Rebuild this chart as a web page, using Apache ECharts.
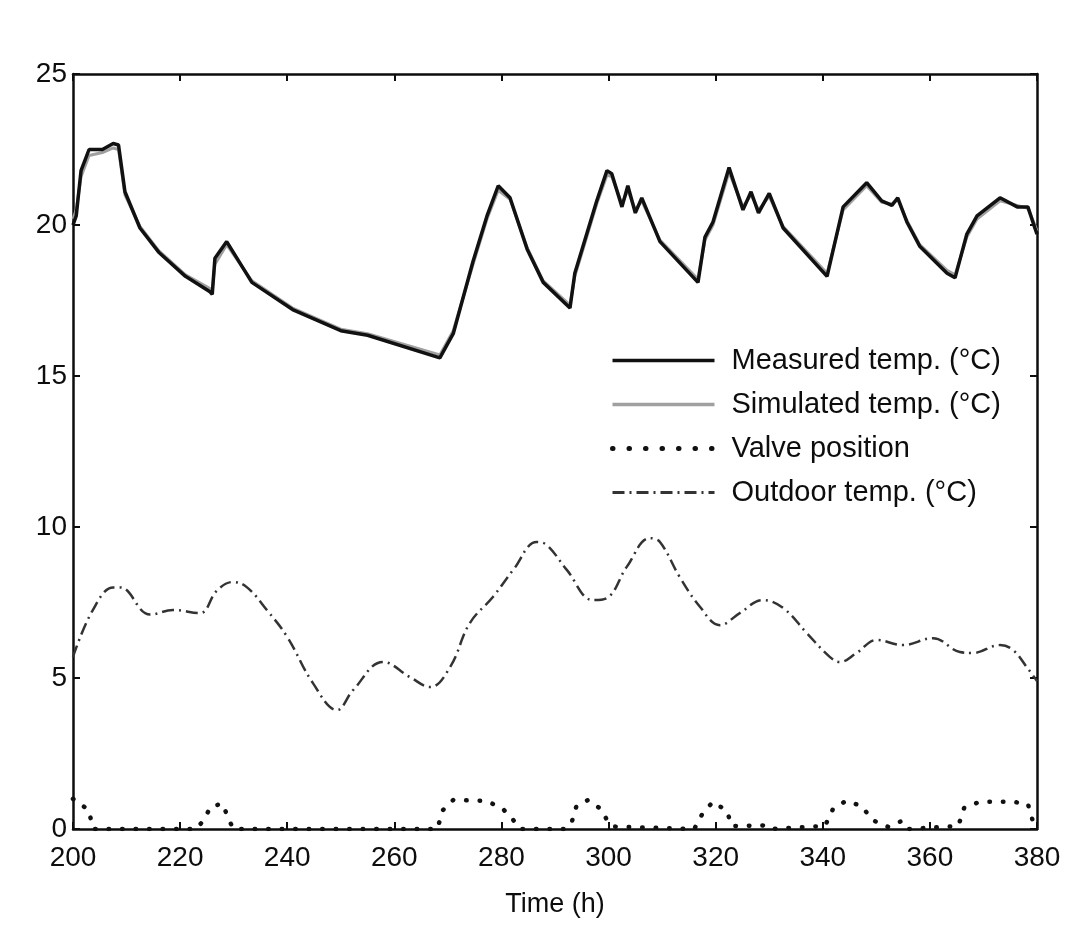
<!DOCTYPE html>
<html>
<head>
<meta charset="utf-8">
<script src="https://cdn.jsdelivr.net/npm/echarts@6/dist/echarts.min.js"></script>
<style>
  html, body { margin: 0; padding: 0; background: #fff; }
  #chart { width: 1065px; height: 929px; }
</style>
</head>
<body>
<div id="chart"></div>
<script>
// [time (h), value]
const measured = [
  [200, 20.0], [200.6, 20.3], [201.5, 21.8], [203, 22.5], [205.5, 22.5], [207.5, 22.7],
  [208.5, 22.65], [209.7, 21.1], [212.5, 19.9], [216, 19.1], [221, 18.3], [225.5, 17.8],
  [226, 17.7], [226.5, 18.9], [228.7, 19.45], [233.4, 18.1], [241, 17.2], [250, 16.5],
  [255, 16.35], [268.5, 15.6], [271, 16.4], [274.7, 18.8], [277.3, 20.3], [279.4, 21.3],
  [281.6, 20.9], [284.8, 19.2], [287.8, 18.1], [292.8, 17.25], [293.7, 18.4], [297.8, 20.8],
  [299.7, 21.8], [300.6, 21.7], [302.5, 20.6], [303.6, 21.3], [305, 20.4], [306.2, 20.9],
  [309.6, 19.45], [316.7, 18.1], [318, 19.6], [319.5, 20.1], [322.5, 21.9], [325.1, 20.5],
  [326.6, 21.1], [328, 20.4], [330, 21.05], [332.6, 19.9], [340.8, 18.3], [343.8, 20.6],
  [348.2, 21.4], [351, 20.8], [352.9, 20.65], [354, 20.9], [355.7, 20.1], [358.1, 19.3],
  [363.2, 18.4], [364.7, 18.25], [366.9, 19.7], [368.8, 20.3], [373.1, 20.9], [376.3, 20.6],
  [378.3, 20.6], [379.6, 19.9], [380, 19.7]
];

const simulated = [
  [200, 20.2], [200.6, 20.5], [201.5, 21.6], [203, 22.3], [205.5, 22.4], [207.5, 22.55],
  [208.5, 22.5], [209.7, 21.0], [212.5, 19.95], [216, 19.15], [221, 18.35], [225.5, 17.9],
  [226, 17.85], [226.5, 18.7], [228.7, 19.35], [233.4, 18.15], [241, 17.25], [250, 16.55],
  [255, 16.4], [268.5, 15.7], [271, 16.5], [274.7, 18.7], [277.3, 20.2], [279.4, 21.15],
  [281.6, 20.85], [284.8, 19.25], [287.8, 18.15], [292.8, 17.35], [293.7, 18.3], [297.8, 20.7],
  [299.7, 21.65], [300.6, 21.6], [302.5, 20.7], [303.6, 21.15], [305, 20.5], [306.2, 20.8],
  [309.6, 19.5], [316.7, 18.2], [318, 19.5], [319.5, 20.0], [322.5, 21.75], [325.1, 20.6],
  [326.6, 21.0], [328, 20.5], [330, 20.95], [332.6, 19.95], [340.8, 18.4], [343.8, 20.5],
  [348.2, 21.3], [351, 20.75], [352.9, 20.7], [354, 20.85], [355.7, 20.15], [358.1, 19.35],
  [363.2, 18.5], [364.7, 18.35], [366.9, 19.6], [368.8, 20.2], [373.1, 20.8], [376.3, 20.65],
  [378.3, 20.55], [379.6, 20.0], [380, 19.8]
];

const valve = [
  [200, 1.0], [202.9, 0.63], [203.8, 0], [223, 0], [224.3, 0.27], [225.8, 0.76], [228, 0.83],
  [229, 0.33], [230, 0], [268, 0], [269.1, 0.63], [271, 0.96], [277.3, 0.93], [280.3, 0.66],
  [282.2, 0.3], [283.5, 0], [292, 0], [293.2, 0.27], [294, 0.76], [296.2, 0.96], [298.6, 0.66],
  [300, 0.2], [301, 0.08], [316, 0], [317.6, 0.53], [319.5, 0.9], [322.1, 0.6], [323, 0.1],
  [328.8, 0.12], [330, 0], [340.4, 0.1], [341.9, 0.66], [344.3, 0.93], [347.3, 0.76],
  [349.2, 0.3], [352.2, 0.07], [354.8, 0.27], [356, 0], [365.3, 0.1], [366.4, 0.7],
  [369.3, 0.9], [375.5, 0.9], [378.3, 0.83], [379.2, 0.27], [380, 0.2]
];

const outdoor = [
  [200, 5.7], [203.7, 7.25], [207.5, 8.0], [208.8, 8.0], [214.4, 7.1], [218.7, 7.25],
  [223.7, 7.15], [226.9, 7.9], [229.9, 8.18], [232.5, 8.0], [236.2, 7.25], [240, 6.36],
  [244.8, 4.83], [249.3, 3.94], [252.3, 4.6], [257.9, 5.53], [262.9, 5.03], [266.7, 4.7],
  [270.4, 5.36], [274.1, 6.82], [278.4, 7.68], [282.2, 8.58], [286.6, 9.5], [288.5, 9.4],
  [292.2, 8.58], [297.1, 7.58], [299.7, 7.65], [303.4, 8.68], [307.7, 9.63], [309.6, 9.5],
  [313.3, 8.34], [317.1, 7.35], [320.8, 6.75], [324.5, 7.15], [328.8, 7.58], [332.6, 7.32],
  [337, 6.49], [341.3, 5.7], [343.2, 5.53], [346.3, 5.83], [350.1, 6.26], [354.9, 6.09],
  [360.6, 6.32], [365.6, 5.86], [368, 5.83], [373.1, 6.09], [375.5, 5.93], [378.1, 5.36],
  [380, 4.9]
];

const seriesNames = ['Measured temp. (\u00b0C)', 'Simulated temp. (\u00b0C)', 'Valve position', 'Outdoor temp. (\u00b0C)'];

const ink = '#0d0d0d';
const font = 'Liberation Sans, Arial, sans-serif';

const chart = echarts.init(document.getElementById('chart'));

const baseX = {
  type: 'value', min: 200, max: 380, interval: 20,
  axisLine: { show: true, onZero: false, lineStyle: { color: ink, width: 2.5 } },
  axisTick: { show: true, inside: true, length: 7, lineStyle: { color: ink, width: 2 } },
  splitLine: { show: false }
};
const baseY = {
  type: 'value', min: 0, max: 25, interval: 5,
  axisLine: { show: true, onZero: false, lineStyle: { color: ink, width: 2.5 } },
  axisTick: { show: true, inside: true, length: 7, lineStyle: { color: ink, width: 2 } },
  splitLine: { show: false }
};

chart.setOption({
  backgroundColor: '#fff',
  animation: false,
  grid: { left: 73, right: 28, top: 74, bottom: 100 },
  xAxis: [
    Object.assign({}, baseX, {
      position: 'bottom',
      name: 'Time (h)', nameLocation: 'middle', nameGap: 62,
      nameTextStyle: { color: ink, fontSize: 27, fontFamily: font },
      axisLabel: { color: ink, fontSize: 28, fontFamily: font, margin: 15 }
    }),
    Object.assign({}, baseX, { position: 'top', axisLabel: { show: false } })
  ],
  yAxis: [
    Object.assign({}, baseY, {
      position: 'left',
      axisLabel: { color: ink, fontSize: 28, fontFamily: font, margin: 6 }
    }),
    Object.assign({}, baseY, { position: 'right', axisLabel: { show: false } })
  ],
  legend: {
    data: [
      { name: seriesNames[0], lineStyle: { width: 3.5 } },
      { name: seriesNames[1], lineStyle: { width: 3.5 } },
      { name: seriesNames[2], lineStyle: { width: 5, type: [0.5, 16], cap: 'round' } },
      { name: seriesNames[3], lineStyle: { width: 3 } }
    ],
    orient: 'vertical',
    left: 605, top: 341,
    itemWidth: 102, itemHeight: 14, itemGap: 15,
    itemStyle: { opacity: 0 },
    textStyle: { color: ink, fontSize: 29, fontFamily: font, padding: [0, 0, 0, 12] }
  },
  series: [
    {
      name: seriesNames[0], type: 'line', data: measured, symbol: 'none', z: 4,
      lineStyle: { color: '#111', width: 3.5 }, itemStyle: { color: '#111' }
    },
    {
      name: seriesNames[1], type: 'line', data: simulated, symbol: 'none', z: 3,
      lineStyle: { color: '#a0a0a0', width: 3 }, itemStyle: { color: '#a0a0a0' }
    },
    {
      name: seriesNames[2], type: 'line', data: valve, symbol: 'none', z: 3,
      lineStyle: { color: '#111', width: 4.5, type: [0.5, 13], cap: 'round' },
      itemStyle: { color: '#111' }
    },
    {
      name: seriesNames[3], type: 'line', data: outdoor, symbol: 'none', smooth: 0.4, z: 3,
      lineStyle: { color: '#333', width: 2.5, type: [12, 5, 2, 5] }, itemStyle: { color: '#333' }
    }
  ]
});
</script>
</body>
</html>
